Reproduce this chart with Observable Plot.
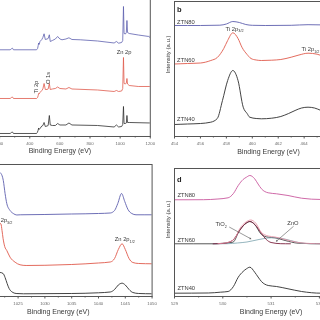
<!DOCTYPE html>
<html><head><meta charset="utf-8">
<script src="https://cdn.jsdelivr.net/npm/d3@7"></script>
<script src="https://cdn.jsdelivr.net/npm/@observablehq/plot@0.6"></script>
<style>
html,body{margin:0;padding:0;background:#fff;}
#fig{position:relative;width:320px;height:320px;overflow:hidden;background:#fff;-webkit-font-smoothing:antialiased;}
#fig svg{position:absolute;overflow:visible;transform:translateZ(0);}
</style></head><body><div id="fig"></div>
<script>
// ---------- Panel a: survey spectra (binding energy eV, intensity a.u.) ----------
const aTicks = [200, 400, 600, 800, 1000, 1200];
const aMinor = [300, 500, 700, 900, 1100];
const aZTN80 = [[204,86.7],[270,86.7],[278,87.7],[285,88.3],[292,86.7],[445,86.7],[452,88],[456,91],[459,93.5],[462,92],[468,95],[480,97],[487,99],[495,102.7],[503,97],[515,97.5],[522,98],[530,101.7],[536,95],[550,96],[570,97.5],[585,100],[600,97.5],[614,96.7],[640,97.5],[660,98.7],[680,97],[735,96.7],[850,95.5],[960,93.5],[975,95],[990,93.3],[1010,94],[1017,96],[1022,130],[1026,103],[1035,102.5],[1041,104],[1045,116],[1049,104],[1060,103],[1120,101.5],[1190,100],[1197,99],[1200,101]];
const aZTN60 = [[204,38],[270,38],[278,39],[285,39.5],[292,38],[445,38],[452,39],[456,41],[459,43],[462,42.5],[468,44],[480,46],[487,47.5],[495,53],[503,47],[515,47],[522,47.5],[530,53],[536,47],[550,47.5],[570,48],[585,49.5],[600,48],[640,47.5],[660,49],[680,47.5],[850,46.5],[960,45],[975,46],[990,45],[1010,45.5],[1017,48],[1022,79],[1026,53],[1035,52.5],[1041,53.5],[1045,58],[1049,52.5],[1060,51],[1120,50],[1200,50]];
const aZTN40 = [[204,3],[270,3],[278,4],[285,4.5],[292,3],[445,3],[450,4],[455,6],[459,8.5],[462,7],[468,8],[480,10.5],[487,11],[495,14],[503,10],[515,10.5],[522,11],[530,21],[536,11.5],[550,11],[570,11],[585,13],[600,11.5],[640,11.5],[660,13.5],[680,11.5],[850,11],[960,9.5],[975,11.5],[990,9.5],[1010,10],[1017,12],[1022,30],[1026,13],[1035,13],[1041,13.5],[1045,21],[1049,14],[1060,14],[1200,13.5]];
const aLabels = [
  {x: 1026, y: 84, t: "Zn 2p", r: 0},
  {x: 524, y: 58.5, t: "O 1s", r: -90},
  {x: 443, y: 49.5, t: "Ti 2p", r: -90}
];

// ---------- Panel b: Ti 2p ----------
const bTicks = [454, 456, 458, 460, 462, 464];
const bMinor = [455, 457, 459, 461, 463, 465];
const bZTN80 = [[454,111],[456,111],[457.5,111.3],[458,112.5],[458.5,115],[459,114],[459.5,112],[460,111.2],[461,111],[463,111.2],[464.3,111.8],[466,111.5],[468.5,111.3]];
const bZTN60 = [[454,72.5],[455,73],[456,73.5],[456.8,76],[457.3,79],[457.8,88],[458.1,96],[458.5,103.7],[458.9,98],[459.2,89.3],[459.6,82],[459.9,78],[460.3,76.5],[460.7,76],[461.5,76.3],[462.2,77],[463,79.3],[463.6,81.5],[464.3,83.3],[465,82.3],[465.3,81],[466,79],[468.5,77]];
const bZTN40 = [[454,12],[455,12.5],[456,13],[456.8,14.3],[457.3,18],[457.7,36],[458.1,56],[458.5,66],[458.9,56],[459.3,29.3],[459.6,23],[459.8,19.3],[460.3,18],[460.7,17.7],[461.5,18.3],[462.2,20],[462.8,23],[463.3,26],[463.8,28.5],[464.3,29.3],[464.8,28.5],[465.3,26],[466,22],[468.5,19]];
const bNames = [{x: 454.2, y: 114, t: "ZTN80"}, {x: 454.2, y: 76, t: "ZTN60"}, {x: 454.2, y: 17, t: "ZTN40"}];
const bPeaks = [{x: 458.92, y: 107.7, main: "Ti 2p", sub: "3/2"}, {x: 464.77, y: 87, main: "Ti 2p", sub: "1/2"}];

// ---------- Panel c: Zn 2p ----------
const cTicks = [1025, 1030, 1035, 1040, 1045, 1050];
const cMinor = [1022.5, 1027.5, 1032.5, 1037.5, 1042.5, 1047.5];
const cZTN80 = [[1021,122],[1021.4,124.5],[1021.8,123],[1022.24,116],[1022.57,103],[1022.89,93],[1023.5,86],[1024.1,83],[1024.76,81.5],[1025.4,81.7],[1030,82],[1035,82.5],[1040,83],[1042.2,83.5],[1043,86],[1043.6,93],[1044.3,103],[1044.9,95],[1045.5,87],[1046.2,83],[1047,81.7],[1050,81.7]];
const cZTN60 = [[1021,72],[1021.5,73.5],[1021.8,72.5],[1022.0,66],[1022.2,58],[1022.5,50],[1022.89,46],[1023.5,39.3],[1024.44,34.3],[1025.36,31.7],[1026.5,31],[1030,31.2],[1035,32],[1040,33.5],[1042.2,34.5],[1043,38],[1043.7,47],[1044.4,52.7],[1045,47],[1045.7,38],[1046.4,34],[1047.5,33],[1050,32.7]];
const cZTN40 = [[1021,23],[1021.64,24],[1022.2,23],[1022.57,19],[1022.95,13],[1023.32,8],[1023.88,4.5],[1024.63,3],[1026,2.7],[1035,3],[1040,3.7],[1042.2,4.5],[1043,7],[1043.7,11.5],[1044.4,13.3],[1045,11.5],[1045.7,7],[1046.4,4],[1047.5,3],[1050,2.7]];
const cPeaks = [{x: 1022.95, y: 76, main: "Zn 2p", sub: "3/2"}, {x: 1045.8, y: 57, main: "Zn 2p", sub: "1/2"}];

// ---------- Panel d: O 1s ----------
const dTicks = [529, 530, 531, 532];
const dMinor = [529.5, 530.5, 531.5];
const dZTN80 = [[529,96.7],[529.6,96.8],[529.9,97.5],[530.11,98.7],[530.22,103],[530.32,111],[530.42,117],[530.49,119.3],[530.56,121],[530.66,117.7],[530.73,112.5],[530.8,107.7],[530.94,103.7],[531.11,102.7],[531.35,101],[531.63,98.3],[532.04,97],[533,97]];
const dZTN60 = [[529,52.7],[529.8,52.7],[530.0,53.2],[530.21,54.3],[530.35,66.5],[530.49,73.5],[530.56,75],[530.66,72],[530.8,62],[530.94,59.3],[531.08,58.7],[531.29,56],[531.56,53.3],[532.04,52.7],[533,52.7]];
const dFit = [[529.9,52.8],[530.1,54],[530.25,58],[530.35,67.7],[530.49,74.8],[530.58,76.5],[530.68,73.5],[530.8,64],[530.94,60.5],[531.08,59.5],[531.29,57],[531.56,54],[531.8,53],[532.04,52.7]];
const dTiO2 = [[529.8,52.7],[530.0,53],[530.2,56],[530.35,66],[530.45,72],[530.56,75],[530.7,70],[530.8,63],[530.9,57],[531.0,54],[531.2,52.8],[531.4,52.7]];
const dZnO = [[529.8,52.7],[530.1,52.8],[530.3,53.5],[530.5,54.5],[530.75,57],[531.0,58.7],[531.2,58.2],[531.4,56],[531.6,53.7],[531.8,52.8],[532.2,52.7]];
const dZTN40 = [[529,3.3],[529.7,3.5],[529.95,4.3],[530.11,5],[530.22,10],[530.32,19.3],[530.42,25],[530.49,27.7],[530.56,29.3],[530.66,24.3],[530.73,19.5],[530.8,15],[530.94,11],[531.11,10],[531.35,7.7],[531.63,5],[532.04,3.3],[533,3.3]];
const dNames = [{x: 529.06, y: 101.7, t: "ZTN80"}, {x: 529.06, y: 56.7, t: "ZTN60"}, {x: 529.06, y: 8.3, t: "ZTN40"}];
const dComp = [{x: 530.04, y: 72, main: "TiO", sub: "2"}, {x: 531.57, y: 73, main: "ZnO", sub: ""}];
const dArrows = [{x1: 530.14, y1: 69.3, x2: 530.58, y2: 57.7}, {x1: 531.46, y1: 70, x2: 531.11, y2: 55.3}];

// ---------- styling ----------
const FONT = '"Liberation Sans", Arial, Helvetica, sans-serif';
const BLUE = "#5d5fae", RED = "#e05a4c", BLACK = "#2e2e2e", PINK = "#c9599e";
const INK = "#3a3a3a", AXIS = "#555555", TICKTXT = "#6a6a6a";
const fig = document.getElementById("fig");
const XT = "Binding Energy (eV)", YT = "Intensity (a.u.)";

function line(data, stroke, curve, w = 0.9) {
  return Plot.line(data, {x: d => d[0], y: d => d[1], stroke, strokeWidth: w, curve, clip: true});
}
function names(data) {
  return Plot.text(data, {x: "x", y: "y", text: "t", textAnchor: "start", fontSize: 5.8, fill: INK});
}
function subLabel(data, size = 5.8) {
  return [
    Plot.text(data, {x: "x", y: "y", text: "main", textAnchor: "end", fontSize: size, fill: INK}),
    Plot.text(data, {x: "x", y: "y", text: "sub", textAnchor: "start", fontSize: size * 0.65, dy: 1.8, fill: INK})
  ];
}

function panel({frame, xd, yd, ticks, minor, ytitle, letter, letterDy, titleDy, marks}) {
  const [L, T, R, B] = frame;
  const M = 40;
  const inD = t => t >= Math.min(...xd) && t <= Math.max(...xd);
  const extra = [];
  if (ytitle) extra.push(Plot.text([YT], {text: d => d, frameAnchor: "left", rotate: -90, dx: -6.5, dy: ytitle, fontSize: 6, fill: INK}));
  if (letter) extra.push(Plot.text([letter], {text: d => d, frameAnchor: "top-left", dx: 2.5, dy: letterDy, fontSize: 7.5, fontWeight: "bold", fill: "#222", textAnchor: "start"}));
  const svg = Plot.plot({
    width: R - L + 2 * M, height: B - T + 2 * M,
    marginLeft: M, marginRight: M, marginTop: M, marginBottom: M,
    style: {fontFamily: FONT, background: "transparent", overflow: "visible"},
    x: {domain: xd},
    y: {domain: yd, axis: null},
    marks: [
      ...marks,
      Plot.frame({stroke: AXIS, strokeWidth: 1}),
      // minor ticks, hanging below the bottom edge
      Plot.ruleX(minor.filter(inD), {x: d => d, y1: yd[0], y2: yd[0], insetTop: 0, insetBottom: -1.6, stroke: AXIS, strokeWidth: 0.8}),
      Plot.axisX({ticks: ticks.filter(inD), tickSize: 2.5, tickPadding: 3, tickFormat: d => String(d), label: null, fontSize: 4.3, fill: TICKTXT, stroke: AXIS}),
      Plot.text([XT], {text: d => d, frameAnchor: "bottom", dy: titleDy, fontSize: 7, fill: INK}),
      ...extra
    ]
  });
  svg.style.left = (L - M) + "px";
  svg.style.top = (T - M) + "px";
  fig.append(svg);
}

// a
panel({frame: [-30.8, -3, 150, 136], xd: [0, 1200], yd: [0, 139], ticks: aTicks, minor: aMinor, titleDy: 17,
  marks: [
    line(aZTN80, BLUE, "linear", 0.8), line(aZTN60, RED, "linear", 0.8), line(aZTN40, BLACK, "linear", 0.8),
    Plot.text(aLabels, {x: "x", y: "y", text: "t", rotate: "r", fontSize: 5.8, fill: INK})
  ]});
// b
panel({frame: [173.5, 1, 361.5, 136], xd: [454, 468.5], yd: [0, 135], ticks: bTicks, minor: bMinor, titleDy: 17,
  ytitle: 4.5, letter: "b", letterDy: 5,
  marks: [
    line(bZTN80, BLUE, "monotone-x"), line(bZTN60, RED, "monotone-x"), line(bZTN40, BLACK, "monotone-x"),
    names(bNames), ...subLabel(bPeaks)
  ]});
// c
panel({frame: [-35.6, 164, 152, 296], xd: [1015, 1050], yd: [0, 132], ticks: cTicks, minor: cMinor, titleDy: 18,
  marks: [
    line(cZTN80, BLUE, "monotone-x"), line(cZTN60, RED, "monotone-x"), line(cZTN40, BLACK, "monotone-x"),
    ...subLabel(cPeaks)
  ]});
// d
panel({frame: [173.5, 168, 366.7, 296], xd: [529, 533], yd: [0, 128], ticks: dTicks, minor: dMinor, titleDy: 18,
  ytitle: 6, letter: "d", letterDy: 8,
  marks: [
    line(dZTN80, PINK, "monotone-x"),
    line(dZTN60, "#444", "monotone-x"),
    line(dZnO, "#7aa2ad", "monotone-x", 0.8),
    line(dTiO2, "#7a1f3c", "monotone-x", 0.9),
    line(dFit, "#e48aa0", "monotone-x", 0.8),
    line(dZTN40, BLACK, "monotone-x"),
    names(dNames), ...subLabel(dComp),
    Plot.arrow(dArrows, {x1: "x1", y1: "y1", x2: "x2", y2: "y2", stroke: "#333", strokeWidth: 0.5, headLength: 3})
  ]});
</script>
</body></html>
